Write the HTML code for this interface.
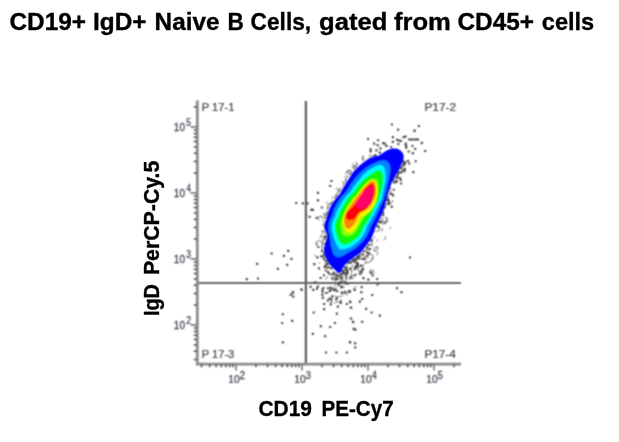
<!DOCTYPE html>
<html lang="en"><head><meta charset="utf-8"><title>CD19+ IgD+ Naive B Cells, gated from CD45+ cells</title>
<style>html,body{margin:0;padding:0;background:#fff}body{width:619px;height:442px;overflow:hidden;position:relative}</style></head>
<body>
<svg width="619" height="442" viewBox="0 0 619 442" style="position:absolute;left:0;top:0">
<rect width="619" height="442" fill="#fff"/>
<defs><filter id="soft" x="-5%" y="-5%" width="110%" height="110%"><feConvolveMatrix order="3" kernelMatrix="1 2 1 2 4 2 1 2 1" divisor="16" edgeMode="duplicate" preserveAlpha="false"/></filter></defs>
<g filter="url(#soft)">
<g fill="none">
<line x1="305.9" y1="101" x2="305.9" y2="364" stroke-width="2.2" stroke="#5e5e5e"/>
<line x1="197" y1="283" x2="461" y2="283" stroke-width="2" stroke="#686868"/>
</g>
<g stroke="#585858" stroke-width="0.85" fill="none">
<path d="M391.1 194.6L390.5 194.0L389.8 193.7L389.0 193.6L388.3 193.9"/>
<path d="M326.2 203.3L326.2 202.7L326.6 202.3L327.1 202.1L327.6 202.2"/>
<path d="M367.7 244.9L366.8 244.2L365.9 243.6L365.0 243.0L364.0 242.5"/>
<path d="M388.4 193.8L388.0 193.4L387.6 193.1L387.1 192.9L386.6 192.8"/>
<path d="M325.9 214.4L327.0 214.1L327.8 213.4L328.3 212.4L328.4 211.3"/>
<path d="M332.2 268.6L331.8 267.7L331.2 267.0L330.5 266.4L329.6 266.0"/>
<path d="M344.1 275.7L343.4 276.6L342.9 277.6L342.8 278.7L343.1 279.9"/>
<path d="M351.8 260.5L351.7 262.5L349.8 262.9L349.0 261.2L350.4 259.9"/>
<path d="M370.3 252.0L369.8 252.7L369.2 253.2L368.5 253.6L367.6 253.7"/>
<path d="M355.3 169.4L355.3 168.8L355.3 168.2L355.2 167.6L355.1 167.0"/>
<path d="M403.0 162.0L402.9 161.4L402.3 161.1L401.8 161.3L401.5 161.9"/>
<path d="M363.2 160.0L363.7 159.2L363.9 158.3L363.7 157.4L363.2 156.6"/>
<path d="M375.1 231.3L374.3 230.2L373.9 228.9L374.0 227.5L374.6 226.3"/>
<path d="M390.0 226.9L390.1 227.4L390.2 227.9L390.3 228.4L390.4 228.9"/>
<path d="M322.0 233.3L322.4 232.8L322.6 232.2L322.8 231.6L322.8 231.0"/>
<path d="M323.6 254.4L323.8 253.8L323.7 253.2L323.4 252.6L322.9 252.3"/>
<path d="M374.5 155.3L374.5 155.9L374.3 156.5L373.9 156.9L373.3 157.2"/>
<path d="M386.8 203.2L387.2 203.8L387.7 204.1L388.3 204.3L389.0 204.3"/>
<path d="M354.0 266.3L353.6 265.4L352.6 265.0L351.8 265.5L351.5 266.5"/>
<path d="M322.6 218.9L321.9 216.5L319.4 216.2L318.1 218.3L319.5 220.4"/>
<path d="M390.4 189.6L390.1 190.5L389.6 191.2L388.9 191.9L388.0 192.3"/>
<path d="M390.0 190.7L390.4 191.7L390.6 192.8L390.5 193.9L390.2 195.0"/>
<path d="M324.3 218.4L325.2 217.9L326.2 217.5L327.2 217.1L328.2 216.8"/>
<path d="M384.4 208.6L381.7 206.1L378.8 208.2L380.3 211.5L383.8 210.7"/>
<path d="M368.8 257.7L368.3 258.1L367.8 258.5L367.3 258.9L366.7 259.3"/>
<path d="M327.2 209.5L327.3 208.5L327.7 207.6L328.4 206.8L329.3 206.4"/>
<path d="M377.1 225.4L376.6 225.8L376.2 226.3L375.9 226.9L375.6 227.5"/>
<path d="M388.5 221.5L387.3 221.0L386.4 219.9L386.3 218.6L386.8 217.3"/>
<path d="M350.6 175.1L351.3 174.8L351.9 174.5L352.6 174.1L353.2 173.7"/>
<path d="M347.3 267.9L346.2 267.6L345.2 267.1L344.3 266.6L343.4 265.9"/>
<path d="M385.5 236.3L385.5 237.5L385.2 238.6L384.5 239.6L383.5 240.3"/>
<path d="M323.6 222.5L323.6 221.8L323.6 221.2L323.5 220.5L323.4 219.9"/>
<path d="M333.9 197.6L334.6 197.5L335.2 197.1L335.7 196.7L336.0 196.1"/>
<path d="M356.6 163.8L356.3 165.0L355.5 165.8L354.4 166.2L353.2 166.0"/>
<path d="M369.1 248.5L368.4 250.7L366.1 250.2L366.4 247.9L368.7 247.9"/>
<path d="M352.0 267.1L351.0 267.8L349.9 268.2L348.7 268.2L347.6 267.7"/>
<path d="M336.6 196.7L337.3 196.3L337.8 195.6L338.1 194.9L338.2 194.1"/>
<path d="M397.5 176.1L396.8 176.6L396.0 176.9L395.2 177.2L394.4 177.4"/>
<path d="M404.1 170.4L404.1 171.1L404.3 171.8L404.7 172.5L405.1 173.0"/>
<path d="M327.3 263.0L327.6 261.9L328.4 261.0L329.5 260.5L330.6 260.4"/>
<path d="M371.2 155.3L371.7 155.6L372.2 155.8L372.8 156.1L373.3 156.4"/>
<path d="M323.3 249.4L322.4 248.5L322.1 247.4L322.3 246.2L322.9 245.2"/>
<path d="M394.7 179.6L394.3 180.6L394.1 181.5L394.1 182.6L394.3 183.5"/>
<path d="M318.0 244.9L317.6 244.5L317.4 244.0L317.2 243.5L317.0 242.9"/>
<path d="M327.0 266.0L327.2 264.7L327.7 263.6L328.4 262.5L329.3 261.6"/>
<path d="M367.5 246.1L366.3 246.6L365.1 247.0L363.9 247.4L362.7 247.7"/>
<path d="M394.4 183.1L393.8 183.2L393.1 183.1L392.6 182.8L392.1 182.3"/>
<path d="M356.8 265.3L355.1 266.3L355.6 268.2L357.5 268.4L358.3 266.7"/>
<path d="M379.9 229.5L379.7 230.4L378.9 230.9L377.9 230.7L377.4 229.9"/>
<path d="M381.2 217.9L380.2 218.5L379.1 218.8L377.9 218.7L376.7 218.4"/>
<path d="M339.3 189.8L338.5 189.2L337.6 188.9L336.6 188.8L335.6 189.1"/>
<path d="M369.8 154.4L370.0 155.2L370.1 156.1L369.9 157.0L369.5 157.7"/>
<path d="M399.3 171.9L398.8 170.7L398.8 169.5L399.3 168.4L400.2 167.6"/>
<path d="M359.2 258.2L359.1 257.4L359.0 256.7L358.9 255.9L358.8 255.1"/>
<path d="M377.7 239.2L377.5 239.7L377.4 240.2L377.2 240.8L377.0 241.3"/>
<path d="M349.1 174.1L350.2 173.9L351.4 173.7L352.6 173.7L353.8 173.6"/>
<path d="M378.0 225.8L377.7 226.3L377.5 226.9L377.3 227.4L377.1 227.9"/>
<path d="M334.8 198.3L335.5 197.6L336.1 196.9L336.6 196.1L336.9 195.2"/>
<path d="M322.5 225.0L322.8 224.6L323.3 224.4L323.8 224.4L324.2 224.6"/>
<path d="M325.9 211.9L326.5 211.8L327.0 211.7L327.6 211.8L328.1 212.0"/>
<path d="M326.6 237.8L327.0 236.8L326.6 235.8L325.7 235.1L324.6 235.2"/>
<path d="M335.0 272.2L334.3 272.1L333.6 271.9L332.9 271.8L332.2 271.7"/>
<path d="M353.8 168.1L354.0 166.8L353.7 165.5L353.0 164.4L351.9 163.6"/>
<path d="M388.4 197.3L386.0 200.3L387.7 203.7L391.5 203.5L392.9 200.0"/>
<path d="M365.0 250.7L364.5 251.1L364.6 251.7L365.0 252.2L365.7 252.1"/>
<path d="M324.5 216.2L324.5 215.4L324.9 214.8L325.7 214.6L326.4 214.9"/>
<path d="M323.6 244.3L324.1 243.8L324.7 243.4L325.3 243.1L326.0 243.0"/>
<path d="M323.9 223.7L324.0 224.2L324.3 224.7L324.7 225.1L325.2 225.4"/>
<path d="M378.9 221.3L379.2 220.5L379.5 219.8L379.9 219.1L380.3 218.4"/>
<path d="M329.2 264.5L326.1 263.7L324.5 266.5L326.9 268.7L329.6 267.0"/>
<path d="M320.0 238.2L320.5 237.2L321.0 236.1L321.5 235.1L322.0 234.1"/>
<path d="M332.6 202.1L332.5 203.4L332.5 204.7L332.6 206.0L332.8 207.3"/>
<path d="M328.9 264.7L327.8 264.3L326.7 263.8L325.6 263.2L324.6 262.5"/>
<path d="M326.4 237.8L327.1 238.3L327.6 239.0L327.9 239.8L327.9 240.7"/>
<path d="M330.2 205.6L330.4 204.7L330.6 203.7L330.7 202.8L330.9 201.9"/>
<path d="M356.0 168.4L356.3 167.5L356.0 166.6L355.2 166.1L354.3 166.2"/>
<path d="M345.5 174.2L345.7 173.3L346.1 172.4L346.6 171.6L347.2 170.8"/>
<path d="M337.1 192.1L337.7 191.0L338.6 190.2L339.7 189.6L340.8 189.2"/>
<path d="M382.4 228.1L382.0 229.0L381.9 229.9L382.1 230.8L382.7 231.5"/>
<path d="M389.0 195.2L388.5 195.5L387.9 195.5L387.6 195.0L387.7 194.4"/>
<path d="M352.1 166.6L352.2 167.3L352.6 168.0L353.1 168.6L353.8 169.0"/>
<path d="M346.0 181.8L345.9 180.6L345.6 179.4L345.3 178.3L344.9 177.2"/>
<path d="M325.6 238.7L326.1 237.9L326.6 237.0L326.9 236.0L327.1 235.0"/>
<path d="M321.1 231.1L321.9 231.0L322.6 230.9L323.4 230.8L324.2 230.6"/>
<path d="M372.6 156.4L373.8 156.7L374.9 156.7L376.0 156.5L377.1 156.1"/>
<path d="M396.3 175.6L396.3 176.1L395.8 176.4L395.2 176.2L395.1 175.6"/>
<path d="M342.6 183.2L342.8 182.6L342.8 181.8L342.5 181.2L341.9 180.7"/>
<path d="M353.2 171.9L353.8 171.8L354.5 171.5L355.0 171.0L355.3 170.4"/>
<path d="M384.1 209.8L382.9 210.0L381.6 210.0L380.3 209.6L379.2 209.0"/>
<path d="M325.7 237.5L326.1 236.8L326.8 236.4L327.6 236.2L328.4 236.3"/>
<path d="M324.7 216.3L325.6 215.4L326.1 214.4L326.4 213.2L326.2 212.0"/>
<path d="M371.5 242.1L371.2 243.3L371.3 244.5L372.0 245.6L373.0 246.4"/>
<path d="M347.5 264.9L347.0 266.1L346.6 267.3L346.4 268.6L346.3 269.9"/>
<path d="M357.0 165.9L357.6 164.8L357.4 163.5L356.5 162.7L355.2 162.6"/>
<path d="M344.9 183.5L345.2 182.2L345.8 181.0L346.4 179.8L347.2 178.7"/>
<path d="M353.9 259.5L353.3 259.8L352.5 259.9L351.8 259.7L351.2 259.3"/>
<path d="M360.1 255.6L359.9 255.1L359.8 254.5L359.9 254.0L360.0 253.5"/>
<path d="M371.7 257.5L372.1 258.2L372.3 259.0L372.1 259.8L371.7 260.5"/>
<path d="M346.4 269.7L345.2 269.7L344.1 270.2L343.2 271.1L342.8 272.2"/>
<path d="M354.2 168.4L354.8 169.4L355.1 170.5L355.2 171.6L354.9 172.7"/>
<path d="M384.9 220.9L383.6 222.4L384.9 223.9L386.6 222.9L385.9 221.0"/>
<path d="M326.9 266.0L327.3 265.0L328.0 264.0L328.9 263.3L329.9 262.9"/>
<path d="M348.0 171.6L348.5 171.3L348.9 170.9L349.2 170.4L349.4 169.9"/>
<path d="M377.8 251.8L377.5 252.6L377.3 253.5L377.1 254.3L377.1 255.2"/>
<path d="M331.7 202.9L332.6 202.5L333.0 201.7L332.7 200.8L331.9 200.3"/>
<path d="M363.8 251.0L363.4 251.8L363.2 252.6L363.1 253.5L363.1 254.4"/>
<path d="M357.7 258.4L356.6 259.1L355.4 259.0L354.4 258.2L354.2 256.9"/>
<path d="M342.6 186.8L343.2 185.8L343.6 184.7L343.9 183.6L344.0 182.4"/>
<path d="M360.3 270.5L360.5 271.8L360.8 273.0L361.3 274.2L362.0 275.3"/>
<path d="M317.7 258.1L317.0 257.2L316.2 256.5L315.3 255.8L314.3 255.3"/>
<path d="M343.5 272.5L342.9 272.1L342.9 271.4L343.4 270.9L344.1 270.9"/>
<path d="M322.7 225.0L323.5 225.6L324.1 226.3L324.5 227.1L324.8 228.0"/>
<path d="M321.6 249.5L321.6 249.0L321.7 248.5L322.0 248.1L322.5 247.9"/>
<path d="M326.0 217.8L326.9 216.9L327.3 215.8L327.3 214.5L326.8 213.4"/>
<path d="M336.0 194.4L336.8 193.8L337.7 193.1L338.5 192.4L339.3 191.7"/>
<path d="M319.7 263.9L319.3 263.5L319.3 263.0L319.7 262.6L320.2 262.6"/>
<path d="M337.2 276.2L336.1 275.4L335.1 274.5L334.2 273.4L333.4 272.3"/>
<path d="M381.8 215.4L380.9 216.1L380.0 217.0L379.2 218.0L378.6 219.1"/>
<path d="M323.8 244.3L327.2 243.9L327.5 240.4L324.1 239.4L322.5 242.5"/>
<path d="M322.2 242.7L323.0 243.0L323.8 243.2L324.7 243.3L325.6 243.2"/>
<path d="M374.3 236.3L374.3 236.9L374.3 237.4L374.4 237.9L374.6 238.4"/>
<path d="M377.0 230.7L376.6 231.2L376.1 231.6L375.5 231.8L374.9 232.0"/>
<path d="M379.0 223.8L378.4 224.2L377.8 224.5L377.1 224.6L376.4 224.6"/>
<path d="M340.5 191.6L340.0 190.5L340.0 189.3L340.6 188.3L341.6 187.6"/>
<path d="M331.7 269.0L330.9 268.6L330.1 268.1L329.3 267.6L328.6 267.0"/>
<path d="M324.6 233.6L324.3 233.1L324.2 232.6L324.2 232.0L324.5 231.5"/>
<path d="M387.7 198.2L386.7 198.1L385.9 197.5L385.4 196.7L385.2 195.7"/>
<path d="M356.1 267.2L355.7 268.0L354.9 268.4L354.1 268.0L353.8 267.2"/>
<path d="M336.8 276.9L336.0 276.6L335.3 276.3L334.6 276.0L334.0 275.6"/>
<path d="M334.2 197.8L335.3 197.3L336.0 196.3L336.0 195.1L335.3 194.1"/>
<path d="M382.8 217.1L381.8 220.8L385.3 222.6L387.7 219.6L385.2 216.6"/>
<path d="M366.7 262.7L365.6 263.5L364.5 264.3L363.3 265.0L362.1 265.6"/>
<path d="M325.1 217.5L324.6 216.3L324.2 215.1L323.9 213.9L323.7 212.6"/>
<path d="M327.9 207.2L328.0 204.0L331.1 203.3L332.6 206.1L330.2 208.2"/>
<path d="M347.2 264.6L346.8 264.3L346.3 264.0L346.0 263.6L345.7 263.1"/>
<path d="M362.6 251.4L362.0 251.9L361.3 252.1L360.6 252.1L359.8 251.9"/>
<path d="M383.3 212.0L382.6 211.4L382.0 210.7L381.5 209.8L381.3 208.9"/>
<path d="M362.0 254.2L360.8 256.2L358.7 255.4L359.1 253.2L361.4 253.2"/>
<path d="M383.6 212.1L383.3 213.1L383.0 214.1L382.8 215.1L382.6 216.1"/>
<path d="M321.6 240.0L322.7 239.6L323.8 239.3L324.9 239.0L326.0 238.8"/>
<path d="M383.3 212.0L383.3 212.7L383.5 213.3L383.9 213.8L384.5 214.1"/>
<path d="M328.1 209.9L328.1 209.1L328.1 208.3L328.3 207.5L328.6 206.8"/>
<path d="M388.5 196.3L388.3 197.1L388.2 198.1L388.4 199.0L388.6 199.8"/>
<path d="M364.3 254.1L364.0 254.8L364.0 255.5L364.2 256.2L364.8 256.8"/>
<path d="M326.1 234.0L325.3 233.3L324.7 232.6L324.2 231.7L323.8 230.8"/>
<path d="M324.3 256.6L327.5 257.0L328.9 254.2L326.6 251.9L323.8 253.3"/>
<path d="M345.8 175.6L346.2 176.6L347.3 177.0L348.3 176.4L348.5 175.3"/>
<path d="M323.9 238.2L324.5 237.5L325.0 236.8L325.3 235.9L325.3 235.0"/>
<path d="M396.2 177.9L394.9 177.9L393.5 177.8L392.2 177.7L390.9 177.4"/>
<path d="M361.8 159.8L362.4 159.9L363.1 160.0L363.7 160.3L364.3 160.6"/>
<path d="M396.7 178.1L396.7 178.7L396.8 179.4L396.8 180.0L396.9 180.6"/>
<path d="M381.9 221.7L381.7 222.8L382.4 223.8L383.6 224.2L384.6 223.6"/>
<path d="M351.0 171.4L351.7 172.4L352.8 173.0L353.9 173.1L355.1 172.9"/>
<path d="M323.7 218.2L324.2 218.1L324.8 218.1L325.3 218.0L325.9 218.0"/>
<path d="M396.1 177.9L395.4 177.9L394.7 177.7L394.1 177.2L393.8 176.5"/>
<path d="M371.3 240.5L370.5 240.3L369.6 240.1L368.7 240.0L367.8 240.1"/>
<path d="M347.8 173.2L347.7 170.4L350.6 170.3L350.8 173.1L347.9 173.4"/>
<path d="M362.6 159.3L362.3 158.3L362.3 157.2L362.6 156.2L363.1 155.3"/>
<path d="M323.2 237.8L323.2 237.3L323.6 236.8L324.1 236.7L324.6 237.0"/>
<path d="M373.2 243.2L372.1 244.0L370.9 244.6L369.7 244.9L368.3 245.1"/>
<path d="M338.5 192.8L338.9 192.4L339.1 191.8L339.0 191.2L338.7 190.7"/>
<path d="M355.7 166.6L356.5 167.2L357.2 167.8L358.0 168.4L358.8 169.0"/>
<path d="M333.1 198.4L332.9 197.8L332.5 197.4L331.9 197.1L331.3 197.0"/>
<path d="M381.2 220.1L380.9 220.9L381.1 221.7L381.7 222.2L382.4 222.5"/>
<path d="M355.2 259.1L354.1 258.6L352.9 258.4L351.8 258.6L350.8 259.2"/>
<path d="M322.2 236.4L322.7 237.0L323.5 237.0L324.2 236.6L324.4 235.8"/>
<path d="M321.7 246.1L322.3 242.5L319.3 240.4L316.1 242.3L316.4 245.9"/>
<path d="M375.3 154.0L375.4 154.5L375.5 154.9L375.6 155.4L375.8 155.9"/>
<path d="M400.5 167.5L400.2 167.9L400.0 168.4L399.8 169.0L399.8 169.5"/>
<path d="M357.3 257.9L356.8 258.9L356.6 260.0L356.6 261.2L356.9 262.3"/>
<path d="M344.4 294.1L345.4 294.0L346.3 294.1L347.2 294.5L348.0 295.1"/>
<path d="M348.0 279.7L348.6 279.3L349.2 278.8L349.8 278.3L350.2 277.7"/>
<path d="M324.9 279.2L325.9 278.7L326.8 278.1L327.5 277.2L328.0 276.3"/>
<path d="M339.9 280.1L340.7 279.7L341.4 279.4L342.2 279.2L343.0 279.0"/>
<path d="M339.4 284.6L340.1 284.1L340.5 283.5L340.7 282.7L340.7 281.9"/>
<path d="M326.7 292.6L327.7 292.3L328.7 291.9L329.7 291.6L330.7 291.2"/>
<path d="M342.1 282.7L342.5 282.0L342.9 281.4L343.4 280.9L344.0 280.4"/>
<path d="M344.2 293.1L345.5 292.9L346.9 292.7L348.2 292.6L349.6 292.4"/>
<path d="M338.3 297.0L339.4 296.6L340.6 296.3L341.7 296.0L342.9 295.8"/>
<path d="M346.9 292.7L347.9 292.3L348.9 291.6L349.7 290.7L350.2 289.6"/>
<path d="M338.3 286.4L339.1 285.4L339.8 284.3L340.4 283.1L340.8 281.8"/>
<path d="M333.7 280.7L333.7 279.5L333.9 278.3L334.2 277.1L334.6 276.0"/>
<path d="M339.4 276.8L339.8 276.4L340.2 275.9L340.6 275.5L340.9 275.0"/>
<path d="M339.4 283.7L339.9 282.5L340.8 281.4L342.0 280.8L343.4 280.7"/>
<path d="M341.1 303.6L341.3 302.4L341.3 301.3L341.1 300.1L340.6 299.0"/>
<path d="M334.4 278.5L335.5 277.8L336.7 277.2L337.8 276.7L339.0 276.2"/>
<path d="M338.2 276.8L338.4 276.3L338.6 275.8L338.9 275.2L339.1 274.7"/>
<path d="M334.7 286.4L335.3 285.3L335.6 284.1L335.7 282.9L335.5 281.6"/>
<path d="M338.9 279.4L339.7 278.5L340.7 277.8L341.8 277.3L342.9 277.0"/>
<path d="M339.9 288.0L341.2 288.0L342.5 287.8L343.8 287.4L344.9 286.7"/>
<path d="M334.1 303.4L335.2 302.6L336.3 302.1L337.6 301.9L338.9 302.1"/>
<path d="M347.5 291.4L348.0 291.1L348.5 290.8L349.1 290.4L349.6 290.1"/>
<path d="M353.7 288.4L354.2 287.7L354.9 287.1L355.7 286.8L356.6 286.7"/>
<path d="M350.6 274.6L351.4 273.5L351.8 272.2L351.7 270.8L351.1 269.6"/>
<path d="M345.4 284.3L346.0 284.1L346.5 283.8L347.1 283.4L347.6 283.1"/>
<path d="M342.5 275.4L343.3 274.6L344.1 273.9L344.9 273.4L345.9 272.9"/>
<path d="M330.0 304.3L330.8 303.8L331.4 303.2L331.9 302.4L332.1 301.5"/>
<path d="M330.4 275.4L331.1 274.8L331.9 274.4L332.8 274.1L333.7 274.0"/>
<path d="M333.7 297.1L334.2 296.6L334.6 296.1L334.9 295.6L335.0 295.0"/>
<path d="M345.3 284.5L345.4 283.3L345.6 282.0L345.9 280.8L346.4 279.6"/>
<path d="M330.5 303.0L330.9 301.8L331.1 300.6L331.0 299.4L330.8 298.2"/>
<path d="M335.9 275.3L336.6 274.7L337.3 274.2L338.1 273.8L339.0 273.5"/>
<path d="M336.7 286.9L337.6 286.3L338.4 285.6L339.2 285.0L340.0 284.3"/>
<path d="M334.5 274.6L335.4 273.6L336.2 272.4L336.8 271.2L337.2 270.0"/>
<ellipse cx="368.8" cy="258.4" rx="5.0" ry="3.4" transform="rotate(-40 368.8 258.4)"/>
<ellipse cx="371.8" cy="271.8" rx="2.2" ry="1.8" transform="rotate(0 371.8 271.8)"/>
<ellipse cx="360.5" cy="268.5" rx="3.2" ry="2.0" transform="rotate(-45 360.5 268.5)"/>
<ellipse cx="352.0" cy="277.0" rx="2.6" ry="1.6" transform="rotate(-40 352.0 277.0)"/>
<ellipse cx="376.0" cy="249.0" rx="2.6" ry="1.5" transform="rotate(-55 376.0 249.0)"/>
</g>
<g fill="#484848">
<path d="M270.6 252.4h2.1v2.1h-2.1zM287.2 249.8h2.1v2.1h-2.1zM282.8 254.8h2.1v2.1h-2.1zM290.4 257.8h2.1v2.1h-2.1zM286.1 263.8h2.1v2.1h-2.1zM276.8 267.8h2.1v2.1h-2.1zM256.1 262.8h2.1v2.1h-2.1zM245.8 278.1h2.1v2.1h-2.1zM256.9 277.4h2.1v2.1h-2.1zM300.4 288.2h2.1v2.1h-2.1zM291.3 292.2h2.1v2.1h-2.1zM292.2 295.6h2.1v2.1h-2.1zM281.8 313.2h2.1v2.1h-2.1zM281.1 321.9h2.1v2.1h-2.1zM291.1 319.8h2.1v2.1h-2.1zM281.8 341.3h2.1v2.1h-2.1zM292.1 291.1h2.1v2.1h-2.1zM289.6 293.9h2.1v2.1h-2.1zM300.6 288.8h2.1v2.1h-2.1zM312.6 311.4h2.1v2.1h-2.1zM311.8 332.8h2.1v2.1h-2.1zM319.8 325.1h2.1v2.1h-2.1zM324.1 335.1h2.1v2.1h-2.1zM329.1 325.9h2.1v2.1h-2.1zM333.9 321.9h2.1v2.1h-2.1zM323.1 302.9h2.1v2.1h-2.1zM323.1 308.1h2.1v2.1h-2.1zM335.8 312.6h2.1v2.1h-2.1zM336.8 305.6h2.1v2.1h-2.1zM324.9 351.4h2.1v2.1h-2.1zM335.4 351.4h2.1v2.1h-2.1zM345.8 351.4h2.1v2.1h-2.1zM349.1 340.9h2.1v2.1h-2.1zM354.2 342.2h2.1v2.1h-2.1zM354.2 346.3h2.1v2.1h-2.1zM350.2 317.4h2.1v2.1h-2.1zM352.1 321.1h2.1v2.1h-2.1zM352.9 327.9h2.1v2.1h-2.1zM349.3 301.1h2.1v2.1h-2.1zM345.8 302.9h2.1v2.1h-2.1zM350.2 306.6h2.1v2.1h-2.1zM339.4 301.1h2.1v2.1h-2.1zM309.6 285.8h2.1v2.1h-2.1zM312.2 288.8h2.1v2.1h-2.1zM315.9 287.6h2.1v2.1h-2.1zM321.6 291.1h2.1v2.1h-2.1zM321.3 293.9h2.1v2.1h-2.1zM328.6 297.6h2.1v2.1h-2.1zM326.8 299.3h2.1v2.1h-2.1zM333.1 289.3h2.1v2.1h-2.1zM335.8 296.6h2.1v2.1h-2.1zM341.2 292.1h2.1v2.1h-2.1zM348.4 290.2h2.1v2.1h-2.1zM353.8 288.4h2.1v2.1h-2.1zM395.9 287.1h2.1v2.1h-2.1zM400.4 291.1h2.1v2.1h-2.1zM376.1 277.9h2.1v2.1h-2.1zM376.6 283.4h2.1v2.1h-2.1zM371.1 293.9h2.1v2.1h-2.1zM360.6 286.1h2.1v2.1h-2.1zM360.3 291.1h2.1v2.1h-2.1zM358.8 300.6h2.1v2.1h-2.1zM361.1 297.9h2.1v2.1h-2.1zM365.1 307.8h2.1v2.1h-2.1zM370.6 311.4h2.1v2.1h-2.1zM378.8 314.6h2.1v2.1h-2.1zM361.1 320.8h2.1v2.1h-2.1zM349.8 317.4h2.1v2.1h-2.1zM351.9 320.8h2.1v2.1h-2.1zM352.6 327.8h2.1v2.1h-2.1zM354.3 328.6h2.1v2.1h-2.1zM348.9 341.3h2.1v2.1h-2.1zM353.9 342.2h2.1v2.1h-2.1zM348.9 300.6h2.1v2.1h-2.1zM345.8 302.9h2.1v2.1h-2.1zM349.8 306.4h2.1v2.1h-2.1zM348.9 290.6h2.1v2.1h-2.1zM353.4 288.8h2.1v2.1h-2.1zM340.8 291.6h2.1v2.1h-2.1zM339.8 301.6h2.1v2.1h-2.1zM369.8 271.6h2.1v2.1h-2.1zM371.6 274.3h2.1v2.1h-2.1zM362.4 277.1h2.1v2.1h-2.1zM360.6 270.8h2.1v2.1h-2.1zM390.9 123.4h2.1v2.1h-2.1zM397.1 128.6h2.1v2.1h-2.1zM417.8 125.0h2.1v2.1h-2.1zM413.6 129.6h2.1v2.1h-2.1zM420.8 141.8h2.1v2.1h-2.1zM424.1 150.0h2.1v2.1h-2.1zM414.6 160.2h2.1v2.1h-2.1zM376.6 144.1h2.1v2.1h-2.1zM382.1 142.1h2.1v2.1h-2.1zM385.3 144.8h2.1v2.1h-2.1zM379.4 147.3h2.1v2.1h-2.1zM369.6 148.3h2.1v2.1h-2.1zM406.9 159.8h2.1v2.1h-2.1zM408.2 162.4h2.1v2.1h-2.1zM403.8 167.8h2.1v2.1h-2.1zM408.9 256.4h2.1v2.1h-2.1zM397.1 128.5h2.1v2.1h-2.1zM413.4 129.9h2.1v2.1h-2.1zM391.8 136.1h2.1v2.1h-2.1zM402.6 136.1h2.1v2.1h-2.1zM404.6 135.4h2.1v2.1h-2.1zM391.8 140.8h2.1v2.1h-2.1zM396.1 138.8h2.1v2.1h-2.1zM397.9 139.4h2.1v2.1h-2.1zM399.9 140.0h2.1v2.1h-2.1zM397.3 143.0h2.1v2.1h-2.1zM404.6 142.6h2.1v2.1h-2.1zM404.9 144.6h2.1v2.1h-2.1zM405.2 146.6h2.1v2.1h-2.1zM420.6 142.0h2.1v2.1h-2.1zM411.4 144.9h2.1v2.1h-2.1zM414.1 147.9h2.1v2.1h-2.1zM407.6 150.5h2.1v2.1h-2.1zM411.8 152.1h2.1v2.1h-2.1zM383.6 142.6h2.1v2.1h-2.1zM385.6 144.9h2.1v2.1h-2.1zM390.1 146.2h2.1v2.1h-2.1zM408.2 138.5h2.1v2.1h-2.1zM410.4 138.5h2.1v2.1h-2.1zM412.6 138.5h2.1v2.1h-2.1zM414.9 138.5h2.1v2.1h-2.1zM416.9 138.5h2.1v2.1h-2.1zM330.4 179.9h2.1v2.1h-2.1zM329.1 184.9h2.1v2.1h-2.1zM316.9 191.8h2.1v2.1h-2.1zM316.9 199.3h2.1v2.1h-2.1zM295.2 201.9h2.1v2.1h-2.1zM301.8 202.3h2.1v2.1h-2.1zM306.4 202.3h2.1v2.1h-2.1zM310.3 208.8h2.1v2.1h-2.1zM311.9 208.8h2.1v2.1h-2.1zM305.1 213.5h2.1v2.1h-2.1zM308.6 215.8h2.1v2.1h-2.1zM315.6 216.8h2.1v2.1h-2.1zM320.8 206.5h2.1v2.1h-2.1zM331.0 295.3h2.1v2.1h-2.1zM363.6 257.6h2.1v2.1h-2.1zM370.8 239.0h2.1v2.1h-2.1zM412.3 171.1h2.1v2.1h-2.1zM401.6 169.4h2.1v2.1h-2.1zM373.6 154.8h2.1v2.1h-2.1zM403.8 161.8h2.1v2.1h-2.1zM377.1 139.2h2.1v2.1h-2.1zM343.3 265.9h2.1v2.1h-2.1zM373.0 142.6h2.1v2.1h-2.1zM370.4 239.7h2.1v2.1h-2.1zM340.0 273.2h2.1v2.1h-2.1zM363.1 249.7h2.1v2.1h-2.1zM367.0 138.0h2.1v2.1h-2.1zM400.4 171.5h2.1v2.1h-2.1zM353.5 261.0h2.1v2.1h-2.1zM361.2 257.8h2.1v2.1h-2.1zM331.1 277.3h2.1v2.1h-2.1zM378.7 151.4h2.1v2.1h-2.1zM346.1 272.3h2.1v2.1h-2.1zM354.5 266.3h2.1v2.1h-2.1zM355.2 265.6h2.1v2.1h-2.1zM344.4 271.7h2.1v2.1h-2.1zM324.6 259.5h2.1v2.1h-2.1zM332.4 287.5h2.1v2.1h-2.1zM392.0 194.3h2.1v2.1h-2.1zM385.4 199.0h2.1v2.1h-2.1zM353.5 268.2h2.1v2.1h-2.1zM339.0 281.8h2.1v2.1h-2.1zM353.6 258.8h2.1v2.1h-2.1zM346.4 269.9h2.1v2.1h-2.1zM366.1 251.7h2.1v2.1h-2.1zM327.0 271.1h2.1v2.1h-2.1zM345.1 277.2h2.1v2.1h-2.1zM381.8 210.5h2.1v2.1h-2.1zM392.3 179.2h2.1v2.1h-2.1zM343.8 290.8h2.1v2.1h-2.1zM358.7 272.6h2.1v2.1h-2.1zM390.7 205.8h2.1v2.1h-2.1zM322.3 287.0h2.1v2.1h-2.1zM374.6 154.2h2.1v2.1h-2.1zM355.8 262.0h2.1v2.1h-2.1zM361.4 253.5h2.1v2.1h-2.1zM356.7 265.0h2.1v2.1h-2.1zM317.3 245.9h2.1v2.1h-2.1zM378.3 221.1h2.1v2.1h-2.1zM325.3 291.9h2.1v2.1h-2.1zM348.5 261.9h2.1v2.1h-2.1zM313.2 263.1h2.1v2.1h-2.1zM403.6 169.4h2.1v2.1h-2.1zM369.6 150.4h2.1v2.1h-2.1zM356.5 264.1h2.1v2.1h-2.1zM314.3 281.2h2.1v2.1h-2.1zM350.2 261.1h2.1v2.1h-2.1zM334.5 278.6h2.1v2.1h-2.1zM329.7 303.5h2.1v2.1h-2.1zM324.4 265.8h2.1v2.1h-2.1zM399.1 177.0h2.1v2.1h-2.1zM336.5 278.0h2.1v2.1h-2.1zM330.0 288.5h2.1v2.1h-2.1zM349.8 276.0h2.1v2.1h-2.1zM400.3 167.1h2.1v2.1h-2.1zM316.4 256.4h2.1v2.1h-2.1zM346.6 282.6h2.1v2.1h-2.1zM343.1 272.4h2.1v2.1h-2.1zM335.2 298.4h2.1v2.1h-2.1zM336.2 290.2h2.1v2.1h-2.1zM345.0 266.4h2.1v2.1h-2.1zM375.3 149.3h2.1v2.1h-2.1zM387.5 199.1h2.1v2.1h-2.1zM317.9 267.3h2.1v2.1h-2.1zM325.2 260.1h2.1v2.1h-2.1zM402.6 164.2h2.1v2.1h-2.1zM330.5 298.5h2.1v2.1h-2.1zM319.6 277.0h2.1v2.1h-2.1zM356.0 256.0h2.1v2.1h-2.1zM387.9 203.2h2.1v2.1h-2.1zM340.9 270.0h2.1v2.1h-2.1zM321.3 288.7h2.1v2.1h-2.1zM356.9 263.4h2.1v2.1h-2.1zM339.2 274.6h2.1v2.1h-2.1zM340.0 285.7h2.1v2.1h-2.1zM378.0 226.4h2.1v2.1h-2.1zM398.6 171.4h2.1v2.1h-2.1zM323.3 253.1h2.1v2.1h-2.1zM396.8 173.3h2.1v2.1h-2.1zM384.6 203.4h2.1v2.1h-2.1zM400.0 182.5h2.1v2.1h-2.1zM320.0 255.2h2.1v2.1h-2.1zM324.0 236.0h2.1v2.1h-2.1zM324.3 264.8h2.1v2.1h-2.1zM366.2 247.0h2.1v2.1h-2.1zM404.3 161.4h2.1v2.1h-2.1zM396.7 176.7h2.1v2.1h-2.1zM345.0 272.1h2.1v2.1h-2.1zM379.6 221.1h2.1v2.1h-2.1zM321.1 250.1h2.1v2.1h-2.1zM334.7 288.5h2.1v2.1h-2.1zM340.6 272.8h2.1v2.1h-2.1zM326.5 263.0h2.1v2.1h-2.1zM337.3 283.0h2.1v2.1h-2.1zM328.9 289.8h2.1v2.1h-2.1zM353.9 258.5h2.1v2.1h-2.1zM358.3 256.6h2.1v2.1h-2.1zM349.4 268.1h2.1v2.1h-2.1zM355.1 258.3h2.1v2.1h-2.1zM388.7 187.1h2.1v2.1h-2.1zM324.6 269.4h2.1v2.1h-2.1zM396.6 171.4h2.1v2.1h-2.1zM342.1 271.1h2.1v2.1h-2.1zM331.4 273.5h2.1v2.1h-2.1zM392.7 188.7h2.1v2.1h-2.1zM353.7 258.4h2.1v2.1h-2.1zM355.5 264.9h2.1v2.1h-2.1zM369.0 248.0h2.1v2.1h-2.1zM357.8 257.5h2.1v2.1h-2.1zM393.6 180.7h2.1v2.1h-2.1zM367.5 244.1h2.1v2.1h-2.1zM376.1 224.8h2.1v2.1h-2.1zM397.3 171.6h2.1v2.1h-2.1zM346.1 268.9h2.1v2.1h-2.1zM351.5 259.3h2.1v2.1h-2.1zM341.0 285.6h2.1v2.1h-2.1zM399.7 178.9h2.1v2.1h-2.1zM342.2 269.6h2.1v2.1h-2.1zM347.0 261.5h2.1v2.1h-2.1zM383.7 205.7h2.1v2.1h-2.1zM346.6 271.7h2.1v2.1h-2.1zM354.4 273.7h2.1v2.1h-2.1zM343.8 281.2h2.1v2.1h-2.1zM386.1 196.4h2.1v2.1h-2.1zM327.1 266.4h2.1v2.1h-2.1zM339.9 281.2h2.1v2.1h-2.1zM378.9 151.6h2.1v2.1h-2.1zM366.2 255.0h2.1v2.1h-2.1zM322.7 257.7h2.1v2.1h-2.1zM322.3 255.3h2.1v2.1h-2.1zM360.0 264.6h2.1v2.1h-2.1zM396.0 175.3h2.1v2.1h-2.1zM330.2 267.3h2.1v2.1h-2.1zM340.1 276.8h2.1v2.1h-2.1zM382.0 211.5h2.1v2.1h-2.1zM323.6 266.0h2.1v2.1h-2.1zM381.7 213.8h2.1v2.1h-2.1zM362.1 268.5h2.1v2.1h-2.1zM345.2 274.6h2.1v2.1h-2.1zM321.8 296.8h2.1v2.1h-2.1zM367.5 252.1h2.1v2.1h-2.1zM337.6 281.8h2.1v2.1h-2.1zM356.5 262.3h2.1v2.1h-2.1zM355.4 258.0h2.1v2.1h-2.1zM403.6 163.0h2.1v2.1h-2.1zM394.5 181.1h2.1v2.1h-2.1zM400.3 165.7h2.1v2.1h-2.1zM334.5 278.2h2.1v2.1h-2.1zM329.5 286.6h2.1v2.1h-2.1zM357.5 254.7h2.1v2.1h-2.1zM356.0 263.4h2.1v2.1h-2.1zM336.4 275.5h2.1v2.1h-2.1zM388.0 200.8h2.1v2.1h-2.1zM361.2 268.2h2.1v2.1h-2.1zM367.3 278.6h2.1v2.1h-2.1zM335.6 273.7h2.1v2.1h-2.1zM344.4 268.4h2.1v2.1h-2.1zM390.4 192.8h2.1v2.1h-2.1zM327.0 287.2h2.1v2.1h-2.1zM401.9 164.5h2.1v2.1h-2.1zM402.3 159.9h2.1v2.1h-2.1zM332.7 272.6h2.1v2.1h-2.1zM395.8 180.3h2.1v2.1h-2.1zM383.3 206.9h2.1v2.1h-2.1zM322.9 274.2h2.1v2.1h-2.1zM316.9 285.5h2.1v2.1h-2.1zM328.4 272.7h2.1v2.1h-2.1zM402.2 161.6h2.1v2.1h-2.1z"/>
</g>
<g>
<path d="M382.8 153.1C384.1 152.3 385.4 151.2 386.7 150.5C388.0 149.8 389.3 149.2 390.6 148.9C391.9 148.6 393.1 148.6 394.4 148.6C395.7 148.6 397.1 148.7 398.3 149.2C399.5 149.7 400.6 150.5 401.5 151.5C402.4 152.5 403.2 153.8 403.5 155.0C403.8 156.2 403.7 157.6 403.5 158.9C403.3 160.2 402.8 161.4 402.2 162.8C401.6 164.2 400.8 165.9 400.2 167.3C399.6 168.7 399.1 169.9 398.3 171.2C397.5 172.5 396.4 173.9 395.6 175.2C394.8 176.5 394.4 177.8 393.7 179.1C393.0 180.4 392.3 181.7 391.7 183.0C391.1 184.3 390.6 185.5 390.1 186.9C389.6 188.3 389.0 189.9 388.5 191.4C388.0 192.9 387.6 194.5 387.2 195.9C386.8 197.3 386.4 198.7 386.1 200.0C385.8 201.3 385.6 202.5 385.2 203.9C384.8 205.3 384.4 206.9 383.9 208.4C383.4 209.9 382.8 211.4 382.2 212.9C381.6 214.4 381.0 215.9 380.3 217.4C379.6 218.9 378.7 220.6 378.0 222.0C377.3 223.4 376.5 224.7 375.9 226.0C375.3 227.3 375.1 228.5 374.6 229.9C374.1 231.3 373.6 232.9 373.0 234.4C372.4 235.9 371.8 237.5 371.0 238.9C370.2 240.3 369.3 241.6 368.4 242.8C367.5 244.0 366.6 244.9 365.8 246.0C365.0 247.1 364.2 248.2 363.3 249.3C362.4 250.4 361.8 251.5 360.7 252.5C359.6 253.5 358.0 254.5 357.0 255.2C356.0 255.9 355.9 256.0 354.9 256.7C353.9 257.4 352.3 258.6 351.0 259.6C349.7 260.6 348.3 261.8 347.1 262.9C345.9 264.0 344.8 264.9 343.9 266.1C343.0 267.3 342.8 268.8 342.0 270.0C341.2 271.2 340.4 273.1 339.4 273.2C338.4 273.3 337.3 271.8 336.2 270.9C335.1 270.0 334.0 269.1 332.9 268.0C331.8 266.9 330.7 265.5 329.7 264.2C328.7 262.9 327.9 261.6 327.1 260.3C326.4 259.0 325.7 257.8 325.2 256.4C324.7 255.0 324.4 253.3 324.2 251.9C324.0 250.5 323.8 249.0 323.9 248.0C324.0 247.0 324.3 246.9 324.6 245.8C324.9 244.7 325.4 242.8 325.9 241.3C326.3 239.8 327.2 238.2 327.3 236.8C327.4 235.4 326.8 234.3 326.3 232.9C325.8 231.5 324.8 229.9 324.5 228.4C324.2 226.9 324.4 225.3 324.6 223.9C324.8 222.5 325.5 221.3 325.9 220.0C326.3 218.7 326.8 217.4 327.2 216.0C327.6 214.6 328.0 212.9 328.5 211.4C329.0 209.9 329.6 208.4 330.4 206.9C331.1 205.4 332.0 203.9 333.0 202.4C334.0 200.9 335.1 199.2 336.2 197.9C337.3 196.6 338.6 195.8 339.5 194.5C340.4 193.2 341.0 191.6 341.9 190.0C342.8 188.4 344.0 186.5 345.1 184.8C346.2 183.1 347.2 181.3 348.3 179.6C349.4 177.9 350.5 176.0 351.6 174.5C352.7 173.0 353.7 171.8 354.8 170.6C355.9 169.3 356.8 168.2 358.0 167.0C359.2 165.8 360.7 164.6 362.0 163.5C363.3 162.4 364.7 161.4 366.0 160.5C367.3 159.6 368.6 158.6 369.9 158.0C371.2 157.4 372.3 157.1 373.8 156.7C375.3 156.3 377.4 156.0 378.9 155.4C380.4 154.8 381.5 153.9 382.8 153.1Z" fill="#0000ff"/>
<path d="M383.0 160.3C384.2 160.2 385.3 160.4 386.2 160.8C387.1 161.2 387.9 162.0 388.5 162.8C389.1 163.6 389.6 164.6 389.9 165.6C390.2 166.6 390.4 167.9 390.5 169.0C390.6 170.1 390.4 171.2 390.2 172.3C390.0 173.5 389.8 174.6 389.5 175.9C389.2 177.2 388.8 178.9 388.5 180.4C388.2 181.9 387.9 183.4 387.5 184.9C387.1 186.4 386.6 187.9 386.2 189.4C385.8 190.9 385.8 192.2 385.3 194.0C384.8 195.8 383.9 198.3 383.3 200.0C382.7 201.7 382.1 202.6 381.5 204.0C380.9 205.4 380.3 206.9 379.7 208.4C379.1 209.9 378.4 211.4 377.7 212.9C377.0 214.4 376.2 215.9 375.5 217.4C374.8 218.9 373.9 220.6 373.2 222.0C372.4 223.4 371.6 224.6 371.0 226.0C370.4 227.4 370.0 229.0 369.4 230.5C368.8 232.0 367.9 233.6 367.1 235.0C366.3 236.4 365.6 237.6 364.6 238.9C363.6 240.2 362.4 241.6 361.3 242.8C360.2 244.0 359.3 245.0 358.1 246.0C356.9 247.0 355.5 248.0 354.2 248.9C352.9 249.8 351.6 250.4 350.3 251.2C349.0 252.0 347.9 252.7 346.5 253.5C345.1 254.3 343.5 255.6 342.0 256.2C340.5 256.8 338.7 257.2 337.4 257.0C336.1 256.8 335.0 255.9 334.2 255.1C333.4 254.2 333.0 253.1 332.6 251.9C332.2 250.7 331.9 249.0 331.6 248.0C331.3 247.0 331.2 247.0 331.0 245.8C330.8 244.6 330.6 242.4 330.4 240.7C330.2 239.0 330.1 237.2 329.8 235.5C329.5 233.8 328.7 232.0 328.5 230.3C328.3 228.6 328.3 226.9 328.5 225.2C328.7 223.5 329.3 221.4 329.8 220.0C330.3 218.6 331.2 217.9 331.7 216.6C332.2 215.3 332.5 213.6 333.0 212.1C333.5 210.6 334.2 209.1 334.9 207.6C335.6 206.1 336.3 204.5 337.2 203.0C338.1 201.5 339.1 199.9 340.1 198.5C341.2 197.1 342.4 195.7 343.5 194.5C344.6 193.3 345.4 192.7 346.4 191.3C347.4 189.9 348.5 187.7 349.6 186.1C350.7 184.5 351.7 183.2 352.9 181.6C354.1 180.0 355.4 177.9 356.7 176.4C358.0 174.9 359.2 173.8 360.6 172.5C362.0 171.2 363.7 169.7 365.3 168.5C366.9 167.3 368.5 166.1 370.0 165.2C371.5 164.3 372.9 163.7 374.4 163.0C375.9 162.3 377.5 161.6 378.9 161.2C380.3 160.8 381.8 160.4 383.0 160.3Z" fill="#0084ff"/>
<path d="M377.6 165.5C378.5 165.3 380.0 164.9 380.9 165.0C381.8 165.1 382.5 165.7 383.1 166.3C383.7 166.9 384.2 167.9 384.6 168.8C385.0 169.8 385.1 170.8 385.3 172.0C385.5 173.2 385.7 174.6 385.7 176.0C385.7 177.4 385.6 178.9 385.4 180.4C385.2 181.9 384.9 183.4 384.6 184.9C384.3 186.4 383.9 187.9 383.6 189.4C383.3 190.9 383.1 192.2 382.7 194.0C382.3 195.8 381.8 198.3 381.2 200.0C380.6 201.7 379.7 202.6 379.0 204.0C378.3 205.4 377.6 206.9 376.8 208.4C376.1 209.9 375.3 211.4 374.5 212.9C373.7 214.4 373.0 215.9 372.2 217.4C371.4 218.9 370.5 220.6 369.6 222.0C368.8 223.4 367.8 224.6 367.1 226.0C366.4 227.4 366.1 229.0 365.5 230.5C364.9 232.0 364.2 233.6 363.3 235.0C362.4 236.4 361.5 237.7 360.4 238.9C359.3 240.2 358.1 241.4 356.8 242.5C355.6 243.6 354.3 244.5 352.9 245.4C351.5 246.3 349.9 247.2 348.4 247.8C346.9 248.4 345.3 248.9 343.9 249.2C342.5 249.4 341.1 249.8 340.0 249.3C338.9 248.8 338.4 247.4 337.5 246.0C336.6 244.6 335.6 242.4 334.9 240.7C334.2 238.9 333.8 237.2 333.3 235.5C332.8 233.8 332.2 232.0 332.0 230.3C331.8 228.6 331.8 226.9 332.0 225.2C332.2 223.5 332.8 221.4 333.3 220.0C333.8 218.6 334.7 217.9 335.2 216.6C335.7 215.3 335.9 213.6 336.5 212.1C337.1 210.6 338.0 209.1 338.8 207.6C339.6 206.1 340.5 204.5 341.4 203.0C342.3 201.5 343.2 199.9 344.3 198.5C345.4 197.1 346.7 195.6 347.7 194.5C348.7 193.4 349.3 193.1 350.3 191.9C351.3 190.7 352.4 188.6 353.5 187.1C354.6 185.6 355.6 184.2 356.7 182.9C357.8 181.6 358.8 180.4 360.0 179.0C361.2 177.6 362.5 175.7 363.8 174.3C365.1 172.9 366.6 171.9 368.0 170.8C369.4 169.8 371.2 168.8 372.5 168.0C373.8 167.2 374.6 166.7 375.5 166.3C376.4 165.9 376.7 165.7 377.6 165.5Z" fill="#00fcfc"/>
<path d="M379.0 170.2C379.8 170.3 380.4 170.9 381.0 171.6C381.6 172.3 382.1 173.3 382.5 174.2C382.9 175.1 383.1 176.0 383.2 177.0C383.3 178.0 383.1 179.1 383.0 180.4C382.9 181.7 382.7 183.4 382.4 184.9C382.1 186.4 381.7 187.9 381.4 189.4C381.1 190.9 380.9 192.2 380.4 194.0C379.9 195.8 379.3 198.3 378.6 200.0C377.9 201.7 376.7 202.6 376.0 204.0C375.3 205.4 374.9 206.9 374.2 208.4C373.5 209.9 372.7 211.4 371.9 212.9C371.1 214.4 370.4 215.9 369.6 217.4C368.8 218.9 368.0 220.6 367.1 222.0C366.2 223.4 365.1 224.7 364.3 226.0C363.5 227.3 363.0 228.6 362.4 230.0C361.8 231.4 361.2 233.1 360.4 234.4C359.6 235.7 358.5 236.6 357.4 237.7C356.3 238.8 354.9 239.9 353.6 240.8C352.3 241.7 350.9 242.6 349.5 243.2C348.1 243.8 346.4 244.5 345.0 244.6C343.6 244.7 342.1 244.4 341.0 243.5C339.9 242.6 338.9 240.8 338.2 239.4C337.4 238.0 337.0 236.5 336.5 234.9C336.0 233.3 335.4 231.4 335.2 229.7C335.0 228.0 335.0 226.1 335.2 224.5C335.4 222.9 336.0 221.3 336.5 220.0C337.0 218.7 337.6 217.9 338.2 216.6C338.8 215.3 339.2 213.6 339.8 212.1C340.4 210.6 341.2 209.1 342.0 207.6C342.8 206.1 343.6 204.6 344.6 203.0C345.6 201.4 346.7 199.6 347.8 198.2C348.9 196.8 350.1 195.6 351.0 194.5C351.9 193.4 352.6 193.1 353.5 191.9C354.4 190.7 355.6 188.8 356.7 187.4C357.8 186.0 358.8 184.8 360.0 183.5C361.2 182.2 362.5 180.8 363.8 179.6C365.1 178.4 366.3 177.4 367.7 176.4C369.1 175.4 370.8 174.2 372.2 173.3C373.6 172.4 374.9 171.5 376.0 171.0C377.1 170.5 378.2 170.1 379.0 170.2Z" fill="#08f808"/>
<path d="M372.9 178.7C373.8 178.6 374.8 178.9 375.5 179.3C376.2 179.7 377.0 180.2 377.4 180.9C377.8 181.6 377.8 182.5 377.9 183.5C378.0 184.5 378.2 185.6 378.2 186.9C378.2 188.2 378.0 189.9 377.8 191.4C377.6 192.9 377.6 194.5 377.2 195.9C376.8 197.3 375.8 198.7 375.2 200.0C374.6 201.3 374.0 202.6 373.3 204.0C372.6 205.4 371.7 207.0 370.9 208.4C370.1 209.8 369.3 211.1 368.4 212.3C367.5 213.5 366.4 214.3 365.4 215.5C364.4 216.7 363.4 218.1 362.5 219.4C361.6 220.7 360.9 222.2 360.3 223.3C359.7 224.4 359.2 225.0 358.7 226.0C358.2 227.0 357.8 228.1 357.1 229.2C356.4 230.3 355.5 231.5 354.5 232.5C353.5 233.5 352.5 234.4 351.3 235.0C350.1 235.6 348.4 236.0 347.1 236.0C345.8 236.0 344.4 235.8 343.5 235.0C342.6 234.2 342.2 232.3 341.8 231.0C341.4 229.7 341.1 228.2 340.9 227.0C340.7 225.8 340.6 225.1 340.7 223.9C340.8 222.7 341.0 221.3 341.4 220.0C341.8 218.7 342.5 217.4 343.0 216.0C343.5 214.6 344.0 212.9 344.6 211.4C345.2 209.9 346.0 208.4 346.9 206.9C347.8 205.4 348.8 203.9 349.8 202.4C350.8 200.9 351.9 199.0 353.0 197.9C354.1 196.8 355.3 196.8 356.1 196.0C356.9 195.2 357.2 194.3 358.0 193.2C358.8 192.1 359.6 190.6 360.6 189.3C361.6 188.0 362.7 186.6 363.8 185.4C364.9 184.2 366.0 183.1 367.1 182.2C368.2 181.3 369.3 180.6 370.3 180.0C371.3 179.4 372.0 178.8 372.9 178.7Z" fill="#90ff00"/>
<path d="M371.4 180.0C372.4 179.9 373.8 180.5 374.6 181.2C375.4 181.8 375.7 182.8 376.2 183.9C376.6 184.9 377.0 185.9 377.2 187.3C377.5 188.7 377.6 190.7 377.6 192.2C377.5 193.8 377.4 194.9 377.1 196.6C376.8 198.3 376.5 200.1 375.5 202.4C374.5 204.6 372.6 208.1 371.1 210.1C369.7 212.0 368.0 213.2 366.7 214.1C365.3 215.1 364.1 215.4 363.2 215.9C362.2 216.4 361.5 216.3 360.9 216.9C360.3 217.5 360.0 218.5 359.4 219.7C358.9 221.0 358.4 222.9 357.7 224.3C357.0 225.7 356.1 226.9 355.1 228.2C354.2 229.4 353.4 231.1 352.0 231.8C350.7 232.4 348.2 232.5 347.0 231.9C345.8 231.3 345.5 229.4 344.9 228.2C344.3 227.0 343.9 226.1 343.6 224.7C343.3 223.3 342.9 221.3 343.0 219.8C343.1 218.3 343.5 217.2 344.0 215.7C344.4 214.2 345.1 212.5 345.9 210.9C346.7 209.4 347.7 208.0 348.8 206.3C349.9 204.7 351.4 202.7 352.5 201.2C353.6 199.7 354.5 198.5 355.4 197.3C356.3 196.1 357.0 195.1 357.7 194.2C358.4 193.3 358.9 192.8 359.6 192.0C360.3 191.1 360.9 190.1 361.8 189.0C362.7 187.8 364.0 186.3 365.1 185.1C366.2 184.0 367.3 183.0 368.4 182.1C369.4 181.3 370.4 180.2 371.4 180.0Z" fill="#fff000"/>
<path d="M371.6 181.0C372.4 180.8 373.3 181.4 373.9 181.9C374.5 182.4 374.9 183.3 375.2 184.2C375.5 185.1 375.8 186.1 375.9 187.4C376.0 188.7 376.0 190.6 375.8 192.0C375.6 193.4 375.4 194.4 374.9 195.9C374.4 197.4 374.1 199.0 373.0 201.0C371.9 203.0 369.9 206.2 368.5 207.8C367.1 209.4 365.8 210.0 364.5 210.8C363.2 211.6 361.9 212.0 360.9 212.7C359.9 213.4 358.9 214.2 358.3 215.2C357.7 216.2 357.5 217.5 357.0 218.7C356.5 219.9 355.9 221.4 355.1 222.6C354.4 223.8 353.4 224.8 352.5 225.8C351.6 226.8 350.7 227.9 349.9 228.4C349.1 228.9 348.3 229.0 347.6 228.9C346.9 228.8 346.3 228.3 345.8 227.6C345.3 226.9 344.9 225.8 344.6 224.5C344.3 223.2 343.9 221.2 344.0 219.8C344.1 218.4 344.4 217.4 344.9 216.0C345.4 214.6 346.0 212.9 346.8 211.4C347.6 209.9 348.5 208.5 349.6 206.9C350.7 205.3 352.2 203.3 353.3 201.8C354.4 200.3 355.3 199.1 356.2 197.9C357.1 196.7 357.8 195.7 358.5 194.8C359.2 193.9 359.7 193.5 360.4 192.6C361.1 191.7 361.7 190.7 362.6 189.6C363.5 188.5 364.7 186.9 365.8 185.8C366.9 184.7 368.0 183.7 369.0 182.9C370.0 182.1 370.8 181.2 371.6 181.0Z" fill="#ff8400"/>
<path d="M371.6 183.5C372.2 183.5 372.8 183.8 373.2 184.5C373.6 185.2 374.0 186.2 374.2 187.4C374.4 188.6 374.5 190.0 374.4 191.4C374.3 192.8 374.0 194.5 373.6 196.0C373.2 197.5 372.8 199.2 372.3 200.5C371.8 201.8 371.2 202.8 370.5 203.9C369.8 205.0 368.9 206.1 368.0 207.1C367.1 208.1 366.0 209.2 364.8 209.9C363.6 210.6 362.1 210.8 360.9 211.5C359.7 212.2 358.5 213.0 357.7 213.9C356.9 214.8 356.5 216.1 355.8 217.0C355.1 217.9 354.2 218.9 353.5 219.3C352.8 219.8 352.5 219.6 351.7 219.7C350.9 219.8 349.4 220.1 348.5 219.8C347.6 219.5 346.6 218.8 346.2 217.9C345.8 217.1 345.7 215.7 345.9 214.7C346.1 213.7 346.5 213.0 347.2 212.1C347.9 211.2 348.8 210.5 349.8 209.5C350.8 208.5 351.9 207.5 353.0 206.3C354.1 205.1 355.1 203.7 356.2 202.4C357.3 201.1 358.6 199.8 359.5 198.5C360.4 197.2 361.1 196.0 361.9 194.5C362.7 193.0 363.6 190.9 364.5 189.6C365.4 188.3 366.2 187.5 367.1 186.7C368.0 185.8 368.9 185.0 369.7 184.5C370.4 184.0 371.0 183.5 371.6 183.5Z" fill="#ff0000"/>
<path d="M371.0 186.1C371.6 186.2 372.1 186.8 372.4 187.6C372.7 188.3 372.9 189.4 372.9 190.6C372.9 191.8 372.9 193.4 372.6 195.0C372.4 196.6 371.9 198.5 371.4 200.0C370.9 201.5 370.4 202.7 369.6 203.9C368.8 205.1 367.8 206.3 366.7 207.1C365.6 207.8 364.2 208.1 362.9 208.4C361.6 208.7 360.1 208.9 359.0 208.7C357.9 208.5 357.0 207.8 356.4 207.1C355.8 206.4 355.4 205.7 355.4 204.8C355.4 203.9 355.9 202.7 356.4 201.6C356.9 200.5 357.8 199.5 358.5 198.5C359.2 197.5 359.9 196.4 360.6 195.5C361.3 194.6 361.9 193.8 362.5 193.0C363.1 192.2 363.9 191.2 364.5 190.5C365.1 189.8 365.6 189.6 366.4 189.0C367.1 188.4 368.2 187.2 369.0 186.7C369.8 186.2 370.4 185.9 371.0 186.1Z" fill="#ff0068"/>
<circle cx="351.7" cy="213.1" r="1" fill="#ff0068"/>
</g>
<g fill="none">
<path d="M197.3 100.5V364.2H461" stroke-width="2.8" stroke="#8c8c8c"/>
<path d="M201.5 364.6v2.6M209.7 364.6v2.6M216.1 364.6v2.6M221.4 364.6v2.6M225.8 364.6v2.6M229.6 364.6v2.6M233.0 364.6v2.6M255.9 364.6v2.6M267.5 364.6v2.6M275.7 364.6v2.6M282.1 364.6v2.6M287.4 364.6v2.6M291.8 364.6v2.6M295.6 364.6v2.6M299.0 364.6v2.6M321.9 364.6v2.6M333.5 364.6v2.6M341.7 364.6v2.6M348.1 364.6v2.6M353.4 364.6v2.6M357.8 364.6v2.6M361.6 364.6v2.6M365.0 364.6v2.6M387.9 364.6v2.6M399.5 364.6v2.6M407.7 364.6v2.6M414.1 364.6v2.6M419.4 364.6v2.6M423.8 364.6v2.6M427.6 364.6v2.6M431.0 364.6v2.6M453.9 364.6v2.6M196.6 359.5h-2.8M196.6 351.3h-2.8M196.6 344.9h-2.8M196.6 339.6h-2.8M196.6 335.2h-2.8M196.6 331.4h-2.8M196.6 328.0h-2.8M196.6 305.1h-2.8M196.6 293.5h-2.8M196.6 285.3h-2.8M196.6 278.9h-2.8M196.6 273.6h-2.8M196.6 269.2h-2.8M196.6 265.4h-2.8M196.6 262.0h-2.8M196.6 239.1h-2.8M196.6 227.5h-2.8M196.6 219.3h-2.8M196.6 212.9h-2.8M196.6 207.6h-2.8M196.6 203.2h-2.8M196.6 199.4h-2.8M196.6 196.0h-2.8M196.6 173.1h-2.8M196.6 161.5h-2.8M196.6 153.3h-2.8M196.6 146.9h-2.8M196.6 141.6h-2.8M196.6 137.2h-2.8M196.6 133.4h-2.8M196.6 130.0h-2.8M196.6 107.1h-2.8" stroke-width="1.5" stroke="#454545"/>
<path d="M236.0 364.6v6M302.0 364.6v6M368.0 364.6v6M434.0 364.6v6M196.6 325.0h-6M196.6 259.0h-6M196.6 193.0h-6M196.6 127.0h-6" stroke-width="1.4" stroke="#6a6a6a"/>
</g>
<g font-family="'Liberation Sans', Arial, sans-serif" fill="#3a3a4a" stroke="#3a3a4a" stroke-width="0.25">
<text transform="translate(228.23,383.3) scale(0.967,1)" font-size="10.6">10</text>
<text transform="translate(239.63,379.0) scale(0.909,1)" font-size="10.4">2</text>
<text transform="translate(173.85,328.7) scale(0.948,1)" font-size="10.6">10</text>
<text transform="translate(186.16,323.6) scale(0.845,1)" font-size="10.4">2</text>
<text transform="translate(294.23,383.3) scale(0.967,1)" font-size="10.6">10</text>
<text transform="translate(305.73,379.0) scale(0.880,1)" font-size="10.4">3</text>
<text transform="translate(173.85,262.7) scale(0.948,1)" font-size="10.6">10</text>
<text transform="translate(186.26,257.6) scale(0.818,1)" font-size="10.4">3</text>
<text transform="translate(360.23,383.3) scale(0.967,1)" font-size="10.6">10</text>
<text transform="translate(371.89,379.0) scale(0.827,1)" font-size="10.4">4</text>
<text transform="translate(173.85,196.7) scale(0.948,1)" font-size="10.6">10</text>
<text transform="translate(186.40,191.6) scale(0.769,1)" font-size="10.4">4</text>
<text transform="translate(426.23,383.3) scale(0.967,1)" font-size="10.6">10</text>
<text transform="translate(437.74,379.0) scale(0.870,1)" font-size="10.4">5</text>
<text transform="translate(173.85,130.7) scale(0.948,1)" font-size="10.6">10</text>
<text transform="translate(186.26,125.6) scale(0.810,1)" font-size="10.4">5</text>
<g fill="#3e3e4a" stroke="#3e3e4a" stroke-width="0.2">
<text transform="translate(201.71,110.6) scale(1.015,1)" font-size="11">P 17-1</text>
<text transform="translate(424.45,110.6) scale(1.076,1)" font-size="11">P17-2</text>
<text transform="translate(201.71,358.4) scale(1.013,1)" font-size="11">P 17-3</text>
<text transform="translate(424.46,358.4) scale(1.067,1)" font-size="11">P17-4</text>
</g>
</g>
</g>
<g font-family="'Liberation Sans', Arial, sans-serif" font-weight="bold" fill="#000">
<g stroke="#000" stroke-width="0.35">
<text transform="translate(9.52,29.8) scale(1.003,1)" font-size="24.3">CD19+</text>
<text transform="translate(93.02,29.8) scale(1.002,1)" font-size="24.3">IgD+</text>
<text transform="translate(154.62,29.8) scale(1.000,1)" font-size="24.3">Naive</text>
<text transform="translate(227.43,29.8) scale(0.931,1)" font-size="24.3">B</text>
<text transform="translate(250.59,29.8) scale(0.934,1)" font-size="24.3">Cells,</text>
<text transform="translate(318.98,29.8) scale(1.055,1)" font-size="24.3">gated</text>
<text transform="translate(393.92,29.8) scale(1.055,1)" font-size="24.3">from</text>
<text transform="translate(457.52,29.8) scale(1.003,1)" font-size="24.3">CD45+</text>
<text transform="translate(541.76,29.8) scale(0.971,1)" font-size="24.3">cells</text>
<text transform="translate(258.46,416.4) scale(0.926,1)" font-size="22.6">CD19</text>
<text transform="translate(321.56,416.4) scale(0.911,1)" font-size="22.6">PE-Cy7</text>
<g transform="translate(159.1,314.8) rotate(-90)">
<text transform="translate(-1.29,0.0) scale(0.887,1)" font-size="22.4">IgD</text>
<text transform="translate(39.72,0.0) scale(0.951,1)" font-size="22.4">PerCP-Cy.5</text>
</g></g>
</g>
</svg>
</body></html>
